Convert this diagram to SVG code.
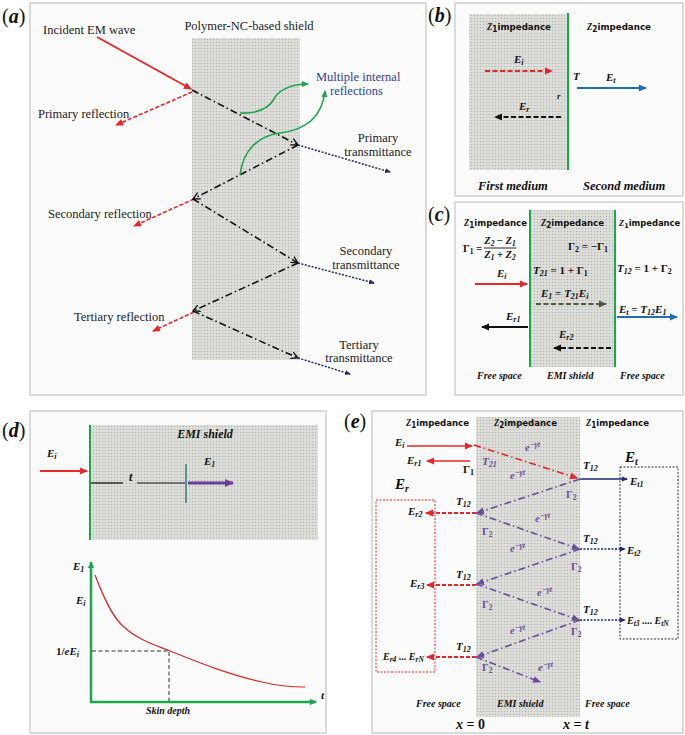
<svg xmlns="http://www.w3.org/2000/svg" width="685" height="735" viewBox="0 0 685 735">
<defs>
<pattern id="hatch" width="3" height="3" patternUnits="userSpaceOnUse"><rect width="3" height="3" fill="#d9d9d5"/><rect x="0" y="0" width="1" height="1" fill="#b5b5b0"/><rect x="1.5" y="1.5" width="1" height="1" fill="#eeeeea"/></pattern>
<marker id="aR" markerWidth="8" markerHeight="8" refX="7" refY="4" orient="auto" markerUnits="userSpaceOnUse"><path d="M0,0.5 L8,4 L0,7.5 z" fill="#e8262a"/></marker>
<marker id="aK" markerWidth="8" markerHeight="8" refX="7" refY="4" orient="auto" markerUnits="userSpaceOnUse"><path d="M0,0.5 L8,4 L0,7.5 z" fill="#111"/></marker>
<marker id="aKo" markerWidth="8" markerHeight="8" refX="7" refY="4" orient="auto" markerUnits="userSpaceOnUse"><path d="M0,0.5 L7,4 L0,7.5" fill="none" stroke="#111" stroke-width="1.3"/></marker>
<marker id="aB" markerWidth="8" markerHeight="8" refX="7" refY="4" orient="auto" markerUnits="userSpaceOnUse"><path d="M0,0.5 L8,4 L0,7.5 z" fill="#1f6fb5"/></marker>
<marker id="aN" markerWidth="6" markerHeight="6" refX="5" refY="3" orient="auto" markerUnits="userSpaceOnUse"><path d="M0,0.5 L6,3 L0,5.5 z" fill="#1e2a6e"/></marker>
<marker id="aG" markerWidth="7" markerHeight="7" refX="6" refY="3.5" orient="auto" markerUnits="userSpaceOnUse"><path d="M0,0.5 L7,3.5 L0,6.5 z" fill="#1aa64a"/></marker>
<marker id="aP" markerWidth="8" markerHeight="8" refX="7" refY="4" orient="auto" markerUnits="userSpaceOnUse"><path d="M0,0.5 L8,4 L0,7.5 z" fill="#6a4c9c"/></marker>
<marker id="aO" markerWidth="8" markerHeight="8" refX="7" refY="4" orient="auto" markerUnits="userSpaceOnUse"><path d="M0,0.5 L8,4 L0,7.5 z" fill="#4b5a3a"/></marker>
<marker id="aV" markerWidth="9" markerHeight="9" refX="8" refY="4.5" orient="auto" markerUnits="userSpaceOnUse"><path d="M0,0.5 L9,4.5 L0,8.5 z" fill="#6a3d9a"/></marker>
</defs>
<style>
.frame{fill:#fbfbfb;stroke:#cfcfcf;stroke-width:1.5}
.shade{fill:url(#hatch)}
.t{font-family:"Liberation Serif",serif;font-size:12.5px;fill:#222}
.tb{font-family:"Liberation Serif",serif;font-size:12.5px;fill:#2e3f8f}
.pl{font-family:"Liberation Serif",serif;font-size:20px;fill:#111}
.m{font-family:"Liberation Serif",serif;font-size:11px;font-weight:bold;font-style:italic;fill:#111}
.mu{font-family:"Liberation Serif",serif;font-size:11px;font-weight:bold;fill:#111}
.imp{font-family:"DejaVu Sans",sans-serif;font-size:9.5px;font-weight:bold;fill:#111}
.lab{font-family:"Liberation Serif",serif;font-size:11px;font-weight:bold;font-style:italic;fill:#111}
.dd{fill:none;stroke:#111;stroke-width:1.6;stroke-dasharray:7 3 1.5 3}
.pdd{fill:none;stroke:#6a4c9c;stroke-width:1.6;stroke-dasharray:7 3 1.5 3}
.sub{font-size:8px}
.pg{font-family:"Liberation Serif",serif;font-weight:bold;fill:#6a4c9c;font-size:10.5px}
</style>

<!-- Panel frames -->
<g id="frames">
<rect class="frame" x="30" y="3" width="396" height="392"/>
<rect class="frame" x="455" y="3" width="228" height="193"/>
<rect class="frame" x="455" y="202" width="228" height="193"/>
<rect class="frame" x="30" y="411" width="296" height="322"/>
<rect class="frame" x="372" y="411" width="311" height="322"/>
</g>

<!-- Panel labels -->
<g id="panel-labels">
<text class="pl" x="2" y="23">(<tspan font-weight="bold" font-style="italic">a</tspan>)</text>
<text class="pl" x="428" y="22">(<tspan font-weight="bold" font-style="italic">b</tspan>)</text>
<text class="pl" x="428" y="221">(<tspan font-weight="bold" font-style="italic">c</tspan>)</text>
<text class="pl" x="2" y="437">(<tspan font-weight="bold" font-style="italic">d</tspan>)</text>
<text class="pl" x="344" y="428">(<tspan font-weight="bold" font-style="italic">e</tspan>)</text>
</g>

<!-- ============ Panel (a) ============ -->
<g id="a-shield"><rect class="shade" x="192" y="38" width="108" height="322"/>
<text class="t" x="249" y="30" text-anchor="middle">Polymer-NC-based shield</text></g>
<g id="a-labels">
<text class="t" x="43" y="34">Incident EM wave</text>
<text class="t" x="38" y="118">Primary reflection</text>
<text class="tb" x="316" y="81">Multiple internal</text>
<text class="tb" x="330" y="95">reflections</text>
<text class="t" x="378" y="142" text-anchor="middle">Primary</text>
<text class="t" x="378" y="156" text-anchor="middle">transmittance</text>
<text class="t" x="48" y="218">Secondary reflection</text>
<text class="t" x="366" y="255" text-anchor="middle">Secondary</text>
<text class="t" x="366" y="269" text-anchor="middle">transmittance</text>
<text class="t" x="74" y="321">Tertiary reflection</text>
<text class="t" x="359" y="349" text-anchor="middle">Tertiary</text>
<text class="t" x="359" y="362" text-anchor="middle">transmittance</text>
</g>
<g id="a-connectors">
<line x1="97" y1="37" x2="191" y2="89" stroke="#e8262a" stroke-width="1.8" marker-end="url(#aR)"/>
<line x1="192" y1="92" x2="116" y2="125" stroke="#e8262a" stroke-width="1.6" stroke-dasharray="4 2" marker-end="url(#aR)"/>
<line x1="194" y1="199" x2="134" y2="226" stroke="#e8262a" stroke-width="1.6" stroke-dasharray="4 2" marker-end="url(#aR)"/>
<line x1="194" y1="312" x2="153" y2="331" stroke="#e8262a" stroke-width="1.6" stroke-dasharray="4 2" marker-end="url(#aR)"/>
<line class="dd" x1="192" y1="90" x2="298" y2="145" marker-end="url(#aKo)"/>
<line class="dd" x1="298" y1="145" x2="193" y2="199" marker-end="url(#aKo)"/>
<line class="dd" x1="193" y1="199" x2="298" y2="263" marker-end="url(#aKo)"/>
<line class="dd" x1="298" y1="263" x2="193" y2="311" marker-end="url(#aKo)"/>
<line class="dd" x1="193" y1="311" x2="298" y2="358" marker-end="url(#aKo)"/>
<line x1="298" y1="145" x2="390" y2="172" stroke="#1e2a6e" stroke-width="1.5" stroke-dasharray="2 1.5" marker-end="url(#aN)"/>
<line x1="298" y1="263" x2="374" y2="283" stroke="#1e2a6e" stroke-width="1.5" stroke-dasharray="2 1.5" marker-end="url(#aN)"/>
<line x1="298" y1="358" x2="350" y2="374" stroke="#1e2a6e" stroke-width="1.5" stroke-dasharray="2 1.5" marker-end="url(#aN)"/>
<path d="M240,113 C262,114 270,106 274,99 C278,90 292,84 308,84" fill="none" stroke="#1aa64a" stroke-width="1.6" marker-end="url(#aG)"/>
<path d="M240,175 C243,150 258,136 280,133 C305,130 322,118 325,91" fill="none" stroke="#1aa64a" stroke-width="1.6" marker-end="url(#aG)"/>
</g>

<!-- ============ Panel (b) ============ -->
<g id="b-media">
<rect class="shade" x="469" y="14" width="99" height="156"/>
<line x1="568" y1="13" x2="568" y2="170" stroke="#1aa64a" stroke-width="2"/>
<text class="imp" x="487" y="30" textLength="64" lengthAdjust="spacingAndGlyphs"><tspan font-family="Liberation Serif" font-style="italic">Z</tspan><tspan class="sub" dy="2">1</tspan><tspan dy="-2">impedance</tspan></text>
<text class="imp" x="587" y="30" textLength="64" lengthAdjust="spacingAndGlyphs"><tspan font-family="Liberation Serif" font-style="italic">Z</tspan><tspan class="sub" dy="2">2</tspan><tspan dy="-2">impedance</tspan></text>
<text class="lab" x="478" y="190" style="font-size:12.5px">First medium</text>
<text class="lab" x="583" y="190" style="font-size:12.5px">Second medium</text>
</g>
<g id="b-connectors">
<line x1="485" y1="71" x2="552" y2="71" stroke="#e8262a" stroke-width="2.2" stroke-dasharray="5 2.5" marker-end="url(#aR)"/>
<line x1="561" y1="117" x2="495" y2="117" stroke="#111" stroke-width="2.2" stroke-dasharray="5 2.5" marker-end="url(#aK)"/>
<line x1="577" y1="88" x2="646" y2="88" stroke="#1f6fb5" stroke-width="2" marker-end="url(#aB)"/>
<text class="m" x="514" y="63">E<tspan class="sub" dy="2">i</tspan></text>
<text class="m" x="573" y="80">T</text>
<text class="m" x="606" y="81">E<tspan class="sub" dy="2">t</tspan></text>
<text class="m" x="557" y="99" style="font-size:9px">r</text>
<text class="m" x="519" y="110">E<tspan class="sub" dy="2">r</tspan></text>
</g>

<!-- ============ Panel (c) ============ -->
<g id="c-media">
<rect class="shade" x="530" y="210" width="85" height="157"/>
<line x1="530" y1="210" x2="530" y2="367" stroke="#1aa64a" stroke-width="2"/>
<line x1="615" y1="210" x2="615" y2="367" stroke="#1aa64a" stroke-width="2"/>
<text class="imp" x="464" y="226" textLength="63" lengthAdjust="spacingAndGlyphs"><tspan font-family="Liberation Serif" font-style="italic">Z</tspan><tspan class="sub" dy="2">1</tspan><tspan dy="-2">impedance</tspan></text>
<text class="imp" x="541" y="226" textLength="63" lengthAdjust="spacingAndGlyphs"><tspan font-family="Liberation Serif" font-style="italic">Z</tspan><tspan class="sub" dy="2">2</tspan><tspan dy="-2">impedance</tspan></text>
<text class="imp" x="619" y="226" style="font-size:8.4px"><tspan font-family="Liberation Serif" font-style="italic">Z</tspan><tspan class="sub" dy="2" style="font-size:6.5px">1</tspan><tspan dy="-2">impedance</tspan></text>
<text class="mu" x="463" y="252" style="font-size:10.5px">Γ<tspan class="sub" dy="2" style="font-size:7.5px">1</tspan><tspan dy="-2"> =</tspan></text>
<text class="m" x="500" y="244" text-anchor="middle" style="font-size:10.5px">Z<tspan class="sub" dy="2" style="font-size:7.5px">2</tspan><tspan dy="-2" font-style="normal"> − </tspan>Z<tspan class="sub" dy="2" style="font-size:7.5px">1</tspan></text>
<line x1="484" y1="248" x2="516" y2="248" stroke="#111" stroke-width="0.9"/>
<text class="m" x="500" y="258" text-anchor="middle" style="font-size:10.5px">Z<tspan class="sub" dy="2" style="font-size:7.5px">1</tspan><tspan dy="-2" font-style="normal"> + </tspan>Z<tspan class="sub" dy="2" style="font-size:7.5px">2</tspan></text>
<text class="mu" x="568" y="250">Γ<tspan class="sub" dy="2">2</tspan><tspan dy="-2"> = −Γ</tspan><tspan class="sub" dy="2">1</tspan></text>
<text class="m" x="533" y="274">T<tspan class="sub" dy="2">21</tspan><tspan dy="-2" font-style="normal"> = 1 + Γ</tspan><tspan class="sub" dy="2" font-style="normal">1</tspan></text>
<text class="m" x="617" y="272">T<tspan class="sub" dy="2">12</tspan><tspan dy="-2" font-style="normal"> = 1 + Γ</tspan><tspan class="sub" dy="2" font-style="normal">2</tspan></text>
<text class="lab" x="477" y="379" style="font-size:10px">Free space</text>
<text class="lab" x="547" y="379" style="font-size:10px">EMI shield</text>
<text class="lab" x="620" y="379" style="font-size:10px">Free space</text>
</g>
<g id="c-connectors">
<line x1="475" y1="284" x2="527" y2="284" stroke="#e8262a" stroke-width="2" marker-end="url(#aR)"/>
<text class="m" x="497" y="277">E<tspan class="sub" dy="2">i</tspan></text>
<line x1="536" y1="304" x2="606" y2="304" stroke="#4b5a3a" stroke-width="2" stroke-dasharray="5 2.5" marker-end="url(#aO)"/>
<text class="m" x="541" y="297">E<tspan class="sub" dy="2">1</tspan><tspan dy="-2" font-style="normal"> = </tspan>T<tspan class="sub" dy="2">21</tspan><tspan dy="-2">E</tspan><tspan class="sub" dy="2">i</tspan></text>
<line x1="617" y1="317" x2="677" y2="317" stroke="#1f6fb5" stroke-width="2" marker-end="url(#aB)"/>
<text class="m" x="619" y="313">E<tspan class="sub" dy="2">t</tspan><tspan dy="-2" font-style="normal"> = </tspan>T<tspan class="sub" dy="2">12</tspan><tspan dy="-2">E</tspan><tspan class="sub" dy="2">1</tspan></text>
<line x1="528" y1="327" x2="482" y2="327" stroke="#111" stroke-width="2" marker-end="url(#aK)"/>
<text class="m" x="506" y="320">E<tspan class="sub" dy="2">r1</tspan></text>
<line x1="611" y1="348" x2="554" y2="348" stroke="#111" stroke-width="2" stroke-dasharray="5 2.5" marker-end="url(#aK)"/>
<text class="m" x="559" y="338">E<tspan class="sub" dy="2">r2</tspan></text>
</g>

<!-- ============ Panel (d) ============ -->
<g id="d-shield">
<rect class="shade" x="90" y="425" width="228" height="115"/>
<line x1="90" y1="425" x2="90" y2="540" stroke="#1aa64a" stroke-width="2"/>
<text class="lab" x="205" y="438" text-anchor="middle" style="font-size:12px">EMI shield</text>
<line x1="186" y1="464" x2="186" y2="503" stroke="#3e7a6e" stroke-width="1.5"/>
<line x1="91" y1="483" x2="123" y2="483" stroke="#111" stroke-width="1.3"/>
<line x1="137" y1="483" x2="185" y2="483" stroke="#111" stroke-width="1"/>
<text class="m" x="129" y="481" style="font-size:12px">t</text>
</g>
<g id="d-connectors">
<line x1="40" y1="471" x2="87" y2="471" stroke="#e8262a" stroke-width="2" marker-end="url(#aR)"/>
<text class="m" x="47" y="457">E<tspan class="sub" dy="2">i</tspan></text>
<line x1="188" y1="483" x2="233" y2="483" stroke="#6a3d9a" stroke-width="3" marker-end="url(#aV)"/>
<text class="m" x="204" y="465">E<tspan class="sub" dy="2">1</tspan></text>
</g>
<g id="d-graph">
<line x1="91" y1="703" x2="91" y2="562" stroke="#1aa64a" stroke-width="2.5" marker-end="url(#aG)"/>
<line x1="90" y1="702" x2="316" y2="702" stroke="#1aa64a" stroke-width="2.5" marker-end="url(#aG)"/>
<path d="M95,575 C103,596 112,617 124,627 C138,640 155,645 170,651 C200,663 230,675 262,682 C282,687 295,687 305,687" fill="none" stroke="#d42a2a" stroke-width="1.2"/>
<line x1="92" y1="651" x2="168" y2="651" stroke="#333" stroke-width="1" stroke-dasharray="4 2.5"/>
<line x1="169" y1="652" x2="169" y2="701" stroke="#333" stroke-width="1" stroke-dasharray="4 2.5"/>
<text class="m" x="73" y="570">E<tspan class="sub" dy="2">1</tspan></text>
<text class="m" x="76" y="604">E<tspan class="sub" dy="2">i</tspan></text>
<text class="m" x="56" y="655"><tspan font-style="normal">1/</tspan>eE<tspan class="sub" dy="2">i</tspan></text>
<text class="m" x="321" y="699">t</text>
<text class="lab" x="168" y="714" text-anchor="middle" style="font-size:10px">Skin depth</text>
</g>

<!-- ============ Panel (e) ============ -->
<g id="e-media">
<rect class="shade" x="476" y="417" width="104" height="300"/>
<text class="imp" x="406" y="426" textLength="63" lengthAdjust="spacingAndGlyphs"><tspan font-family="Liberation Serif" font-style="italic">Z</tspan><tspan class="sub" dy="2">1</tspan><tspan dy="-2">impedance</tspan></text>
<text class="imp" x="494" y="426" textLength="63" lengthAdjust="spacingAndGlyphs"><tspan font-family="Liberation Serif" font-style="italic">Z</tspan><tspan class="sub" dy="2">2</tspan><tspan dy="-2">impedance</tspan></text>
<text class="imp" x="586" y="426" textLength="63" lengthAdjust="spacingAndGlyphs"><tspan font-family="Liberation Serif" font-style="italic">Z</tspan><tspan class="sub" dy="2">1</tspan><tspan dy="-2">impedance</tspan></text>
<text class="lab" x="416" y="707" style="font-size:10px">Free space</text>
<text class="lab" x="497" y="707" style="font-size:10px">EMI shield</text>
<text class="lab" x="585" y="707" style="font-size:10px">Free space</text>
<text class="m" x="456" y="729" style="font-size:14px">x<tspan font-style="normal"> = 0</tspan></text>
<text class="m" x="563" y="729" style="font-size:14px">x<tspan font-style="normal"> = </tspan>t</text>
</g>
<g id="e-Er">
<rect x="376" y="500" width="59" height="172" fill="none" stroke="#e8262a" stroke-width="1" stroke-dasharray="2 1.5"/>
<text class="m" x="395" y="489" style="font-size:15px">E<tspan dy="3" style="font-size:10px">r</tspan></text>
</g>
<g id="e-Et">
<rect x="620" y="467" width="58" height="172" fill="none" stroke="#333" stroke-width="1" stroke-dasharray="2 1.5"/>
<text class="m" x="625" y="462" style="font-size:15px">E<tspan dy="3" style="font-size:10px">t</tspan></text>
</g>
<g id="e-connectors">
<line x1="407" y1="446" x2="472" y2="446" stroke="#e8262a" stroke-width="1.5" marker-end="url(#aR)"/>
<line x1="470" y1="461" x2="427" y2="461" stroke="#e8262a" stroke-width="1.5" marker-end="url(#aR)"/>
<line x1="474" y1="445" x2="577" y2="478" stroke="#e8262a" stroke-width="1.6" stroke-dasharray="7 3 1.5 3" marker-end="url(#aR)"/>
<line class="pdd" x1="580" y1="479" x2="477" y2="513" marker-end="url(#aP)"/>
<line class="pdd" x1="476" y1="513" x2="579" y2="549" marker-end="url(#aP)"/>
<line class="pdd" x1="580" y1="549" x2="477" y2="584" marker-end="url(#aP)"/>
<line class="pdd" x1="476" y1="584" x2="579" y2="620" marker-end="url(#aP)"/>
<line class="pdd" x1="580" y1="620" x2="477" y2="657" marker-end="url(#aP)"/>
<line class="pdd" x1="476" y1="657" x2="540" y2="682" marker-end="url(#aP)"/>
<line x1="580" y1="479" x2="627" y2="479" stroke="#1e2a6e" stroke-width="1.5" marker-end="url(#aN)"/>
<line x1="580" y1="549" x2="625" y2="549" stroke="#1e2a6e" stroke-width="1.5" stroke-dasharray="2 1.5" marker-end="url(#aN)"/>
<line x1="580" y1="620" x2="625" y2="620" stroke="#1e2a6e" stroke-width="1.5" stroke-dasharray="2 1.5" marker-end="url(#aN)"/>
<line x1="476" y1="513" x2="426" y2="513" stroke="#e8262a" stroke-width="2" stroke-dasharray="4 2" marker-end="url(#aR)"/>
<line x1="476" y1="585" x2="427" y2="585" stroke="#e8262a" stroke-width="2" stroke-dasharray="4 2" marker-end="url(#aR)"/>
<line x1="476" y1="657" x2="427" y2="657" stroke="#e8262a" stroke-width="2" stroke-dasharray="4 2" marker-end="url(#aR)"/>
</g>
<g id="e-labels">
<text class="m" x="395" y="446">E<tspan class="sub" dy="2">i</tspan></text>
<text class="m" x="407" y="464">E<tspan class="sub" dy="2">r1</tspan></text>
<text class="mu" x="463" y="473">Γ<tspan class="sub" dy="2">1</tspan></text>
<text class="m" x="482" y="465" style="fill:#6a4c9c">T<tspan class="sub" dy="2">21</tspan></text>
<text class="m" x="583" y="469">T<tspan class="sub" dy="2">12</tspan></text>
<text class="m" x="630" y="485">E<tspan class="sub" dy="2">t1</tspan></text>
<text class="m" x="408" y="515">E<tspan class="sub" dy="2">r2</tspan></text>
<text class="m" x="456" y="505">T<tspan class="sub" dy="2">12</tspan></text>
<text class="m" x="583" y="542">T<tspan class="sub" dy="2">12</tspan></text>
<text class="m" x="627" y="554">E<tspan class="sub" dy="2">t2</tspan></text>
<text class="m" x="456" y="578">T<tspan class="sub" dy="2">12</tspan></text>
<text class="m" x="410" y="587">E<tspan class="sub" dy="2">r3</tspan></text>
<text class="m" x="583" y="613">T<tspan class="sub" dy="2">12</tspan></text>
<text class="m" x="627" y="624" style="font-size:10px">E<tspan class="sub" dy="2" style="font-size:7.5px">t3</tspan><tspan dy="-2" font-style="normal"> .... </tspan>E<tspan class="sub" dy="2" style="font-size:7.5px">tN</tspan></text>
<text class="m" x="456" y="650">T<tspan class="sub" dy="2">12</tspan></text>
<text class="m" x="383" y="660" style="font-size:10px">E<tspan class="sub" dy="2" style="font-size:7.5px">r4</tspan><tspan dy="-2" font-style="normal"> ... </tspan>E<tspan class="sub" dy="2" style="font-size:7.5px">rN</tspan></text>
<text class="pg" x="525" y="451" font-style="italic">e<tspan dy="-4" style="font-size:8px">−γt</tspan></text>
<text class="pg" x="510" y="479" font-style="italic">e<tspan dy="-4" style="font-size:8px">−γt</tspan></text>
<text class="pg" x="535" y="522" font-style="italic">e<tspan dy="-4" style="font-size:8px">−γt</tspan></text>
<text class="pg" x="510" y="552" font-style="italic">e<tspan dy="-4" style="font-size:8px">−γt</tspan></text>
<text class="pg" x="537" y="596" font-style="italic">e<tspan dy="-4" style="font-size:8px">−γt</tspan></text>
<text class="pg" x="510" y="634" font-style="italic">e<tspan dy="-4" style="font-size:8px">−γt</tspan></text>
<text class="pg" x="538" y="671" font-style="italic">e<tspan dy="-4" style="font-size:8px">−γt</tspan></text>
<text class="pg" x="566" y="498">Γ<tspan dy="2" style="font-size:7.5px">2</tspan></text>
<text class="pg" x="482" y="535">Γ<tspan dy="2" style="font-size:7.5px">2</tspan></text>
<text class="pg" x="571" y="570">Γ<tspan dy="2" style="font-size:7.5px">2</tspan></text>
<text class="pg" x="482" y="608">Γ<tspan dy="2" style="font-size:7.5px">2</tspan></text>
<text class="pg" x="571" y="635">Γ<tspan dy="2" style="font-size:7.5px">2</tspan></text>
<text class="pg" x="482" y="671">Γ<tspan dy="2" style="font-size:7.5px">2</tspan></text>
</g>
</svg>
